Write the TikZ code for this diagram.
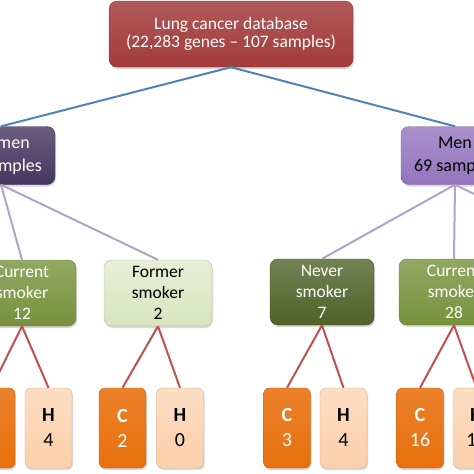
\documentclass[tikz,border=0pt]{standalone}
\usepackage{fontspec}
\setmainfont{Carlito}
\usetikzlibrary{shadows}
\definecolor{topred}{HTML}{A33B3B}
\definecolor{womenc}{HTML}{46365F}
\definecolor{menc}{HTML}{9475BE}
\definecolor{curc}{HTML}{76923C}
\definecolor{formc}{HTML}{D7E4BD}
\definecolor{neverc}{HTML}{4F6228}
\definecolor{cc}{HTML}{E8700D}
\definecolor{hc}{HTML}{FBCFA9}
\definecolor{blueln}{HTML}{4F81BD}
\definecolor{lavln}{HTML}{B3A2C7}
\definecolor{redln}{HTML}{C0504D}
\tikzset{
  box/.style={rounded corners=8pt, align=center, inner sep=0pt,
    font=\fontsize{17.5}{21}\selectfont,
    drop shadow={shadow xshift=1pt, shadow yshift=-2pt, opacity=0.3}},
  topbox/.style={box, top color=topred!85!white, bottom color=topred, draw=topred!90!black, text=white, minimum width=244pt, minimum height=66pt},
  lvlone/.style={box, minimum width=108pt, minimum height=58pt, font=\fontsize{18}{23}\selectfont},
  lvltwo/.style={box, minimum width=108pt, minimum height=66pt},
  leaf/.style={box, rounded corners=6pt, minimum width=47pt, minimum height=80pt, font=\fontsize{20}{25}\selectfont},
  cleaf/.style={leaf, top color=cc!88!white, bottom color=cc, draw=cc!85!black, text=white},
  hleaf/.style={leaf, top color=hc!70!white, bottom color=hc, draw=hc!85!black, text=black},
  blueedge/.style={draw=blueln, line width=2pt},
  lavedge/.style={draw=lavln, line width=2pt},
  rededge/.style={draw=redln, line width=2pt},
}
\begin{document}
\begin{tikzpicture}[x=1pt, y=-1pt]
\useasboundingbox (0,0) rectangle (474,474);
\clip (0,0) rectangle (474,474);
% level 0
\node[topbox] (db) at (231,34) {\raisebox{-5pt}{\shortstack{Lung cancer database\\(22,283 genes -- 107 samples)}}};
% level 1
\node[lvlone, top color=womenc!80!white, bottom color=womenc, draw=womenc!85!black, text=white] (women) at (1,155.5) {Women\\38 samples};
\node[lvlone, top color=menc!80!white, bottom color=menc, draw=menc!85!black, text=black] (men) at (455,155.5) {Men\\69 samples};
% level 2
\node[lvltwo, top color=curc!80!white, bottom color=curc, draw=curc!85!black, text=white] (cur1) at (22,293) {Current\\smoker\\12};
\node[lvltwo, top color=formc!60!white, bottom color=formc, draw=formc!85!black, text=black] (for1) at (158,293) {Former\\smoker\\2};
\node[lvltwo, minimum width=104pt, top color=neverc!80!white, bottom color=neverc, draw=neverc!85!black, text=white] (nev2) at (322,292) {Never\\smoker\\7};
\node[lvltwo, minimum width=110pt, top color=curc!80!white, bottom color=curc, draw=curc!85!black, text=white] (cur2) at (454,292) {Current\\smoker\\28};
\coordinate (for2) at (607,258);
% leaves
\node[cleaf] (c1) at (-8.5,428) {\textbf{C}\\8};
\node[hleaf] (h1) at (48.5,428) {\textbf{H}\\4};
\node[cleaf] (c2) at (122.5,428) {\textbf{C}\\2};
\node[hleaf] (h2) at (180,428) {\textbf{H}\\0};
\node[cleaf] (c3) at (287,428) {\textbf{C}\\3};
\node[hleaf] (h3) at (343.5,428) {\textbf{H}\\4};
\node[cleaf] (c4) at (420,428) {\textbf{C}\\16};
\node[hleaf] (h4) at (476.5,428) {\textbf{H}\\12};
% edges
\draw[blueedge] (db.south) -- (women.north);
\draw[blueedge] (db.south) -- (men.north);
\draw[lavedge] (women.south) -- (cur1.north);
\draw[lavedge] (women.south) -- (for1.north);
\draw[lavedge] (men.south) -- (nev2.north);
\draw[lavedge] (men.south) -- (cur2.north);
\draw[lavedge] (men.south) -- (for2);
\draw[rededge] (cur1.south) -- (c1.north);
\draw[rededge] (cur1.south) -- (h1.north);
\draw[rededge] (for1.south) -- (c2.north);
\draw[rededge] (for1.south) -- (h2.north);
\draw[rededge] (nev2.south) -- (c3.north);
\draw[rededge] (nev2.south) -- (h3.north);
\draw[rededge] (cur2.south) -- (c4.north);
\draw[rededge] (cur2.south) -- (h4.north);
\end{tikzpicture}
\end{document}
